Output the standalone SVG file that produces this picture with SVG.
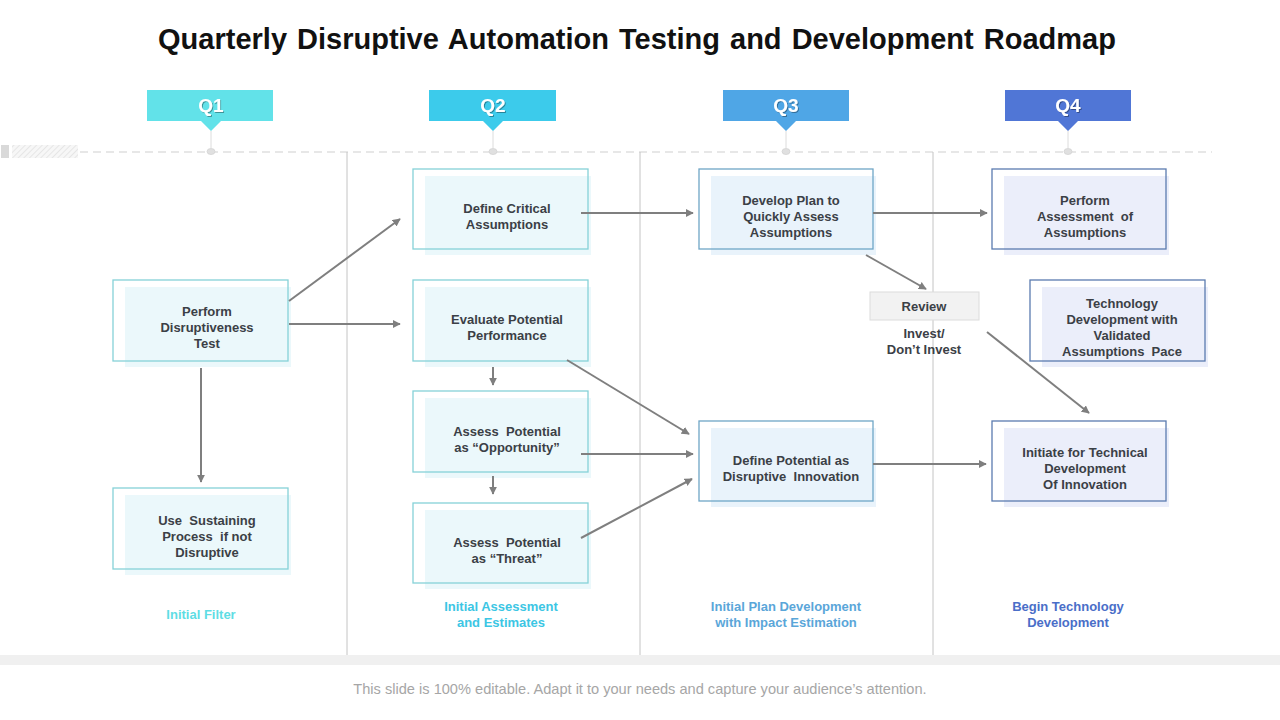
<svg xmlns="http://www.w3.org/2000/svg" width="1280" height="720" viewBox="0 0 1280 720">
<defs>
<style>
.title{font-family:"Liberation Sans",Arial,sans-serif;font-weight:bold;font-size:29px;fill:#111;}
.tab{font-family:"Liberation Sans",Arial,sans-serif;font-weight:bold;font-size:19px;fill:#fff;}
.bt{font-family:"Liberation Sans",Arial,sans-serif;font-weight:bold;font-size:13px;fill:#3b4046;text-anchor:middle;white-space:pre;}
.lbl{font-family:"Liberation Sans",Arial,sans-serif;font-weight:bold;font-size:13px;text-anchor:middle;}
.foot{font-family:"Liberation Sans",Arial,sans-serif;font-size:14.6px;fill:#a6a6a6;text-anchor:middle;}
.o12{fill:none;stroke:#86d2d8;stroke-width:1.3;}
.f12{fill:#ebf8fb;}
.o3{fill:none;stroke:#6fa6c6;stroke-width:1.3;}
.f3{fill:#e9f3fb;}
.o4{fill:none;stroke:#5b7bb0;stroke-width:1.3;}
.f4{fill:#ebeefa;}
.conn line{stroke:#7f7f7f;stroke-width:2;marker-end:url(#ah);}
.div{stroke:#c4c4c4;stroke-width:1;}
</style>
<marker id="ah" viewBox="0 0 10 10" refX="9" refY="5" markerWidth="4" markerHeight="4" orient="auto" markerUnits="strokeWidth">
<path d="M0,0 L10,5 L0,10 z" fill="#7f7f7f"/>
</marker>
<pattern id="hatch" width="4" height="4" patternUnits="userSpaceOnUse" patternTransform="rotate(45)">
<rect width="4" height="4" fill="#f7f7f7"/>
<line x1="0" y1="0" x2="0" y2="4" stroke="#e6e6e6" stroke-width="2"/>
</pattern>
<filter id="sh" x="-20%" y="-20%" width="140%" height="140%">
<feDropShadow dx="1" dy="1" stdDeviation="0.6" flood-color="#000" flood-opacity="0.35"/>
</filter>
</defs>
<rect width="1280" height="720" fill="#fff"/>
<text class="title" x="637" y="49" text-anchor="middle" word-spacing="2">Quarterly Disruptive Automation Testing and Development Roadmap</text>

<!-- timeline -->
<g id="timeline">
<rect x="1" y="145" width="8" height="13" fill="#d9d9d9"/>
<rect x="12" y="145" width="66" height="13" fill="url(#hatch)"/>
<line x1="80" y1="152" x2="1212" y2="152" stroke="#d0d0d0" stroke-width="1.2" stroke-dasharray="8,5"/>
<line class="div" x1="347" y1="152" x2="347" y2="655"/>
<line class="div" x1="640" y1="152" x2="640" y2="655"/>
<line class="div" x1="933" y1="152" x2="933" y2="655"/>
<g fill="#e0e0e0" stroke="#d3d3d3" stroke-width="0.8">
<line x1="211" y1="131" x2="211" y2="148"/><ellipse cx="211" cy="151.5" rx="4" ry="3"/>
<line x1="493" y1="131" x2="493" y2="148"/><ellipse cx="493" cy="151.5" rx="4" ry="3"/>
<line x1="786" y1="131" x2="786" y2="148"/><ellipse cx="786" cy="151.5" rx="4" ry="3"/>
<line x1="1068" y1="131" x2="1068" y2="148"/><ellipse cx="1068" cy="151.5" rx="4" ry="3"/>
</g>
</g>

<g id="q1"><path d="M147,90 H273 V121 H221 L211,131 L201,121 H147 Z" fill="#62e2e9"/><text class="tab" x="211" y="112" text-anchor="middle" filter="url(#sh)">Q1</text></g>
<g id="q2"><path d="M429,90 H556 V121 H503 L493,131 L483,121 H429 Z" fill="#3ccbeb"/><text class="tab" x="493" y="112" text-anchor="middle" filter="url(#sh)">Q2</text></g>
<g id="q3"><path d="M723,90 H849 V121 H796 L786,131 L776,121 H723 Z" fill="#4fa6e6"/><text class="tab" x="786" y="112" text-anchor="middle" filter="url(#sh)">Q3</text></g>
<g id="q4"><path d="M1005,90 H1131 V121 H1078 L1068,131 L1058,121 H1005 Z" fill="#5076d6"/><text class="tab" x="1068" y="112" text-anchor="middle" filter="url(#sh)">Q4</text></g>

<!-- Nodes -->
<g id="n-perform-test"><rect class="f12" x="125" y="287" width="166" height="80"/><rect class="o12" x="113" y="280" width="175" height="81"/>
<text class="bt"><tspan x="207" y="316">Perform</tspan><tspan x="207" y="332">Disruptiveness</tspan><tspan x="207" y="348">Test</tspan></text></g>
<g id="n-sustaining"><rect class="f12" x="125" y="495" width="166" height="80"/><rect class="o12" x="113" y="488" width="175" height="81"/>
<text class="bt"><tspan x="207" y="525">Use  Sustaining</tspan><tspan x="207" y="541">Process  if not</tspan><tspan x="207" y="557">Disruptive</tspan></text></g>

<g id="n-define-critical"><rect class="f12" x="425" y="176" width="166" height="79"/><rect class="o12" x="413" y="169" width="175" height="80"/>
<text class="bt"><tspan x="507" y="213">Define Critical</tspan><tspan x="507" y="229">Assumptions</tspan></text></g>
<g id="n-evaluate"><rect class="f12" x="425" y="287" width="166" height="80"/><rect class="o12" x="413" y="280" width="175" height="81"/>
<text class="bt"><tspan x="507" y="324">Evaluate Potential</tspan><tspan x="507" y="340">Performance</tspan></text></g>
<g id="n-opportunity"><rect class="f12" x="425" y="398" width="166" height="80"/><rect class="o12" x="413" y="391" width="175" height="81"/>
<text class="bt"><tspan x="507" y="436">Assess  Potential</tspan><tspan x="507" y="452">as “Opportunity”</tspan></text></g>
<g id="n-threat"><rect class="f12" x="425" y="510" width="166" height="79"/><rect class="o12" x="413" y="503" width="175" height="80"/>
<text class="bt"><tspan x="507" y="547">Assess  Potential</tspan><tspan x="507" y="563">as “Threat”</tspan></text></g>

<g id="n-develop-plan"><rect class="f3" x="711" y="176" width="165" height="79"/><rect class="o3" x="699" y="169" width="174" height="80"/>
<text class="bt"><tspan x="791" y="205">Develop Plan to</tspan><tspan x="791" y="221">Quickly Assess</tspan><tspan x="791" y="237">Assumptions</tspan></text></g>
<g id="n-define-potential"><rect class="f3" x="711" y="428" width="165" height="79"/><rect class="o3" x="699" y="421" width="174" height="80"/>
<text class="bt"><tspan x="791" y="465">Define Potential as</tspan><tspan x="791" y="481">Disruptive  Innovation</tspan></text></g>

<g id="n-review"><rect x="870" y="292" width="109" height="28" fill="#f2f2f2" stroke="#dcdcdc" stroke-width="1"/>
<text class="bt" x="924" y="311">Review</text>
<text class="bt"><tspan x="924" y="338">Invest/</tspan><tspan x="924" y="354">Don’t Invest</tspan></text></g>

<g id="n-perform-assessment"><rect class="f4" x="1004" y="176" width="165" height="79"/><rect class="o4" x="992" y="169" width="174" height="80"/>
<text class="bt"><tspan x="1085" y="205">Perform</tspan><tspan x="1085" y="221">Assessment  of</tspan><tspan x="1085" y="237">Assumptions</tspan></text></g>
<g id="n-technology"><rect class="f4" x="1042" y="287" width="166" height="80"/><rect class="o4" x="1030" y="280" width="175" height="81"/>
<text class="bt"><tspan x="1122" y="308">Technology</tspan><tspan x="1122" y="324">Development with</tspan><tspan x="1122" y="340">Validated</tspan><tspan x="1122" y="356">Assumptions  Pace</tspan></text></g>
<g id="n-initiate"><rect class="f4" x="1004" y="428" width="165" height="79"/><rect class="o4" x="992" y="421" width="174" height="80"/>
<text class="bt"><tspan x="1085" y="457">Initiate for Technical</tspan><tspan x="1085" y="473">Development</tspan><tspan x="1085" y="489">Of Innovation</tspan></text></g>

<!-- Connectors -->
<g id="connectors" class="conn">
<line x1="289" y1="301" x2="400" y2="219"/>
<line x1="289" y1="324" x2="400" y2="324"/>
<line x1="201" y1="368" x2="201" y2="482"/>
<line x1="493" y1="367" x2="493" y2="385"/>
<line x1="493" y1="476" x2="493" y2="494"/>
<line x1="581" y1="213" x2="693" y2="213"/>
<line x1="567" y1="360" x2="689" y2="434"/>
<line x1="581" y1="454" x2="693" y2="454"/>
<line x1="581" y1="538" x2="692" y2="479"/>
<line x1="873" y1="213" x2="987" y2="213"/>
<line x1="866" y1="255" x2="926" y2="289"/>
<line x1="987" y1="332" x2="1089" y2="413"/>
<line x1="873" y1="464" x2="986" y2="464"/>
</g>

<!-- column labels -->
<g id="labels">
<text class="lbl" x="201" y="619" fill="#5fdde4">Initial Filter</text>
<text class="lbl" fill="#3cc6e4"><tspan x="501" y="611">Initial Assessment</tspan><tspan x="501" y="627">and Estimates</tspan></text>
<text class="lbl" fill="#5aa6d9"><tspan x="786" y="611">Initial Plan Development</tspan><tspan x="786" y="627">with Impact Estimation</tspan></text>
<text class="lbl" fill="#4a6ec8"><tspan x="1068" y="611">Begin Technology</tspan><tspan x="1068" y="627">Development</tspan></text>
</g>

<rect x="0" y="655" width="1280" height="10" fill="#f0f0f0"/>
<text class="foot" x="640" y="694">This slide is 100% editable. Adapt it to your needs and capture your audience’s attention.</text>
</svg>
